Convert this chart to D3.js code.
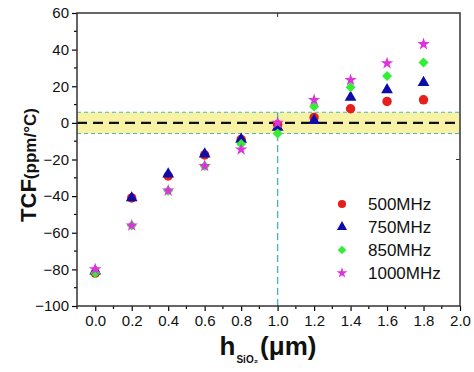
<!DOCTYPE html>
<head>
    <style>
        body { margin: 0; background: #fff; }
        svg { font-family: "Liberation Sans", Arial, sans-serif; }
    </style>
</head>
<body>
    <script src="https://d3js.org/d3.v7.min.js"></script>
    <script>
        const w = 474, h = 372;
        const m = {left: 77, right: 14, top: 13, bottom: 66};

        const thickness = [0.0, 0.2, 0.4, 0.6, 0.8, 1.0, 1.2, 1.4, 1.6, 1.8];
        const tcf500  = [-82, -41, -29, -17.5, -9, -1, 3, 7.7, 11.7, 12.6];
        const tcf750  = [-81, -41, -28, -17, -9, -2.5, 1.3, 14, 18, 22];
        const tcf850  = [-82, -56, -37, -23.5, -11.5, -5.8, 9, 19.4, 25.6, 33];
        const tcf1000 = [-80, -56, -37, -23.5, -14.5, 0, 12.5, 23.4, 32.6, 43];
        const seriesNames = ['500MHz', '750MHz', '850MHz', '1000MHz'];
        const xTicks = [0.0, 0.2, 0.4, 0.6, 0.8, 1.0, 1.2, 1.4, 1.6, 1.8, 2.0];
        const yTicks = [-100, -80, -60, -40, -20, 0, 20, 40, 60];
        const band = 5.8;

        const series = [
            {name: seriesNames[0], values: tcf500,  shape: d3.symbolCircle,   size: 70, rot: 0,  color: '#e5201c'},
            {name: seriesNames[1], values: tcf750,  shape: d3.symbolTriangle, size: 60, rot: 0,  color: '#0c0ca8'},
            {name: seriesNames[2], values: tcf850,  shape: d3.symbolSquare,   size: 50, rot: 45, color: '#33ee33'},
            {name: seriesNames[3], values: tcf1000, shape: d3.symbolStar,     size: 48, rot: 0,  color: '#dd33dd'}
        ];

        const x = d3.scaleLinear().domain([-0.1, 2.0]).range([m.left, w - m.right]);
        const y = d3.scaleLinear().domain([-100, 60]).range([h - m.bottom, m.top]);

        const svg = d3.select('body').append('svg')
                      .attr('width', w).attr('height', h);

        // yellow tolerance band
        svg.append('rect')
           .attr('x', x(-0.1)).attr('width', x(2.0) - x(-0.1))
           .attr('y', y(band)).attr('height', y(-band) - y(band))
           .attr('fill', '#f8f2a4');

        [band, -band].forEach(v => {
            svg.append('line')
               .attr('x1', x(-0.1)).attr('x2', x(2.0))
               .attr('y1', y(v)).attr('y2', y(v))
               .attr('stroke', '#4fb3c0').attr('stroke-width', 1.2)
               .attr('stroke-dasharray', '4,3');
        });

        svg.append('line')
           .attr('x1', x(1.0)).attr('x2', x(1.0))
           .attr('y1', y(-100)).attr('y2', y(band))
           .attr('stroke', '#4fb3c0').attr('stroke-width', 1.4)
           .attr('stroke-dasharray', '7,4');

        svg.append('line')
           .attr('x1', x(-0.1)).attr('x2', x(2.0))
           .attr('y1', y(0)).attr('y2', y(0))
           .attr('stroke', '#111').attr('stroke-width', 2.2)
           .attr('stroke-dasharray', '10,6');

        // axes
        const xAxis = d3.axisBottom(x).tickValues(xTicks)
                        .tickFormat(d3.format('.1f')).tickSize(5).tickPadding(4);
        const gx = svg.append('g').attr('transform', `translate(0,${h - m.bottom})`).call(xAxis);
        const xMinor = d3.range(-0.1, 2.0, 0.2);
        gx.selectAll('.minor').data(xMinor).enter().append('line')
          .attr('x1', d => x(d)).attr('x2', d => x(d))
          .attr('y1', 0).attr('y2', 3).attr('stroke', '#000');

        const yAxis = d3.axisLeft(y).tickValues(yTicks).tickSize(5).tickPadding(3);
        const gy = svg.append('g').attr('transform', `translate(${m.left},0)`).call(yAxis);
        const yMinor = d3.range(-90, 60, 20);
        gy.selectAll('.minor').data(yMinor).enter().append('line')
          .attr('x1', 0).attr('x2', -3)
          .attr('y1', d => y(d)).attr('y2', d => y(d)).attr('stroke', '#000');

        [gx, gy].forEach(g => {
            g.select('.domain').remove();
            g.selectAll('text').attr('font-size', 15).attr('fill', '#111')
             .style('font-family', '"Liberation Sans", Arial, sans-serif');
            g.selectAll('line').attr('stroke-width', 1.2);
        });

        // frame
        svg.append('rect')
           .attr('x', x(-0.1)).attr('y', y(60))
           .attr('width', x(2.0) - x(-0.1)).attr('height', y(-100) - y(60))
           .attr('fill', 'none').attr('stroke', '#333').attr('stroke-width', 1.5);
        svg.append('line').attr('x1', x(1.0)).attr('x2', x(1.0))
           .attr('y1', y(60)).attr('y2', y(60) + 4).attr('stroke', '#333');
        svg.append('line').attr('x1', x(2.0)).attr('x2', x(2.0) - 4)
           .attr('y1', y(-20)).attr('y2', y(-20)).attr('stroke', '#333');

        // points
        series.forEach(s => {
            svg.append('g').selectAll('path')
               .data(s.values.map((v, i) => [thickness[i], v]))
               .enter().append('path')
               .attr('transform', d => `translate(${x(d[0])},${y(d[1])}) rotate(${s.rot})`)
               .attr('d', d3.symbol().type(s.shape).size(s.size))
               .attr('fill', s.color);
        });

        // legend
        const lg = svg.append('g').attr('transform', 'translate(342,204)');
        series.forEach((s, i) => {
            const row = lg.append('g').attr('transform', `translate(0,${i * 23})`);
            row.append('path').attr('d', d3.symbol().type(s.shape).size(s.size * 0.75))
               .attr('transform', `rotate(${s.rot})`)
               .attr('fill', s.color);
            row.append('text').attr('x', 26).attr('y', 6)
               .attr('font-size', 17).attr('fill', '#111').text(s.name);
        });

        // axis titles
        const yt = svg.append('text')
           .attr('transform', `translate(36,165) rotate(-90)`)
           .attr('text-anchor', 'middle').attr('font-weight', 'bold').attr('fill', '#111');
        yt.append('tspan').attr('font-size', 22).text('TCF');
        yt.append('tspan').attr('font-size', 17).text('(ppm/°C)');

        const xt = svg.append('text')
           .attr('x', 268).attr('y', 355)
           .attr('text-anchor', 'middle').attr('font-weight', 'bold').attr('fill', '#111');
        xt.append('tspan').attr('font-size', 26).text('h');
        xt.append('tspan').attr('font-size', 10).attr('dy', 8).attr('dx', 1).text('SiO₂');
        xt.append('tspan').attr('font-size', 26).attr('dy', -8).attr('dx', 2).text('(μm)');
    </script>
</body>
